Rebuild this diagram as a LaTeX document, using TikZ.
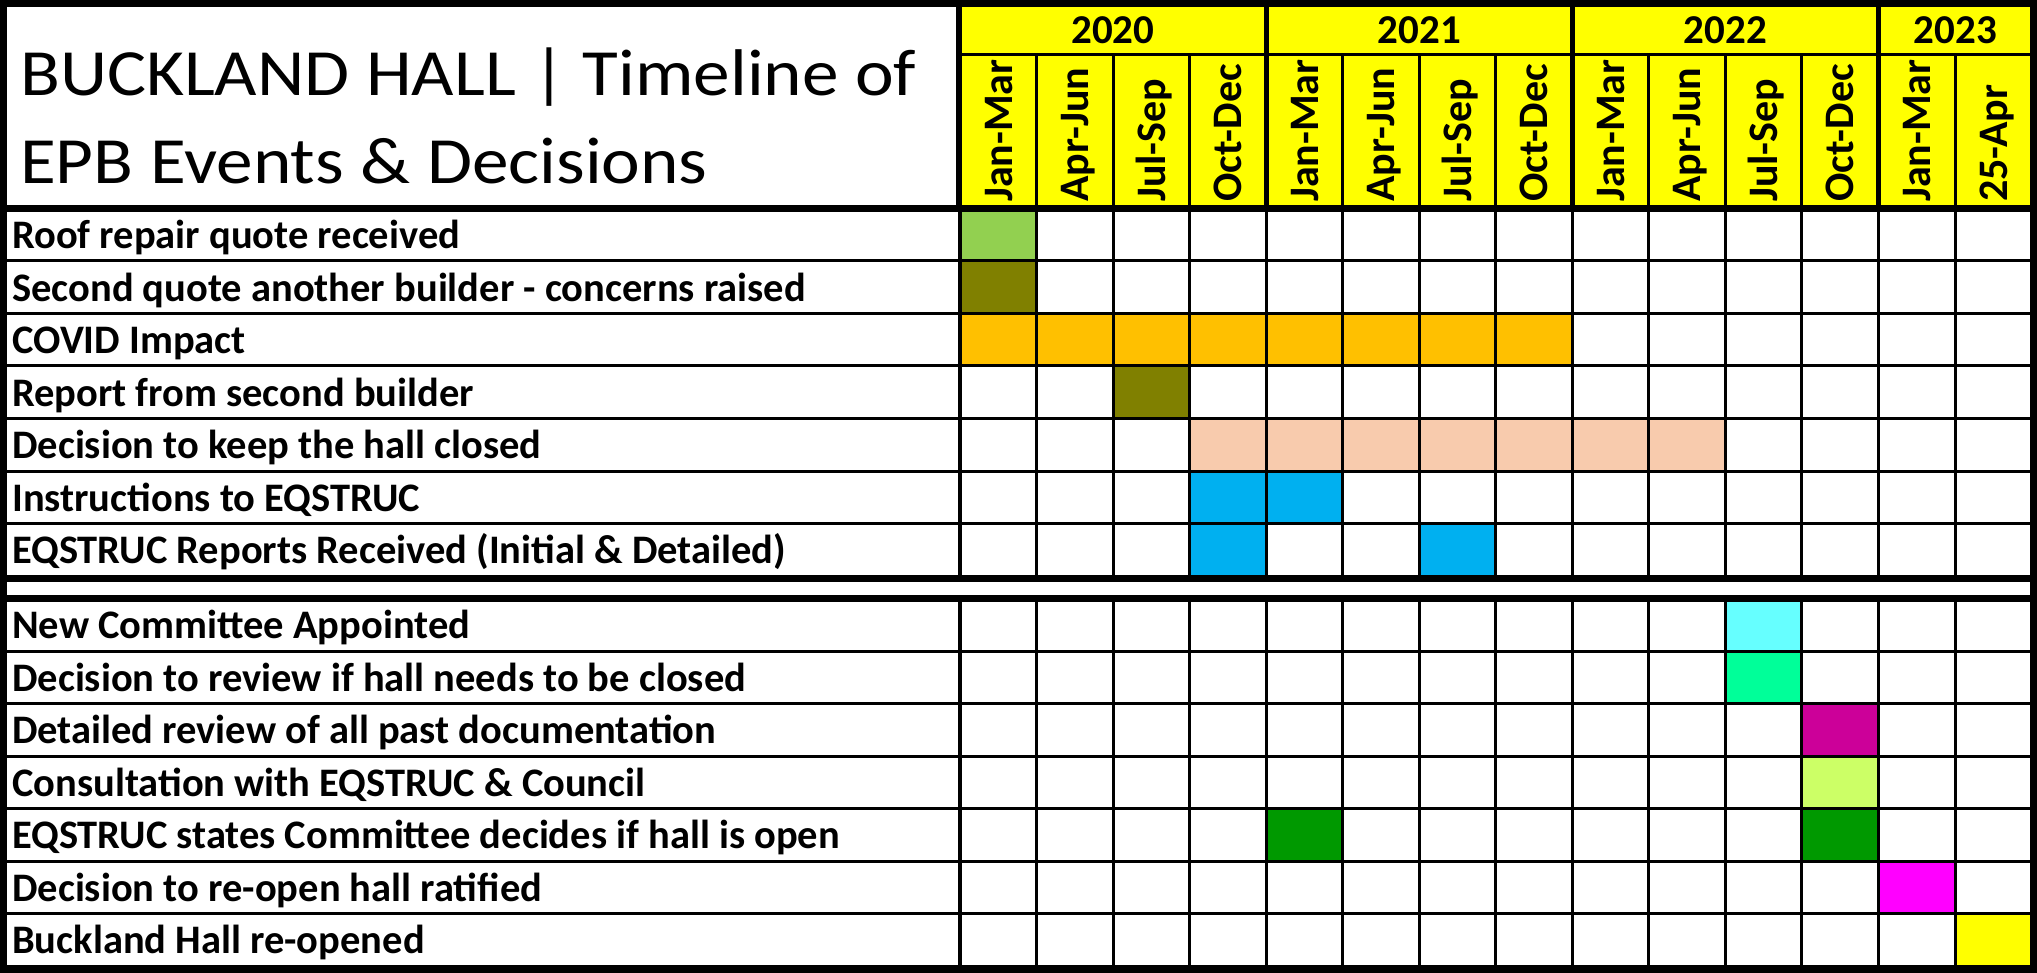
\documentclass[tikz,border=0pt]{standalone}
\usepackage{fontspec}
\setmainfont{Carlito}
\definecolor{hdr}{HTML}{FFFF00}
\definecolor{cLgreen}{HTML}{92D050}
\definecolor{cOlive}{HTML}{808000}
\definecolor{cOrange}{HTML}{FFC000}
\definecolor{cPeach}{HTML}{F8CBAD}
\definecolor{cBlue}{HTML}{00B0F0}
\definecolor{cCyan}{HTML}{66FFFF}
\definecolor{cSpring}{HTML}{00FF99}
\definecolor{cDmag}{HTML}{CC0099}
\definecolor{cLime}{HTML}{CCFF66}
\definecolor{cGreen}{HTML}{009900}
\definecolor{cMag}{HTML}{FF00FF}
\definecolor{cYel}{HTML}{FFFF00}
\newcommand\gcell[3]{%
  \pgfmathsetmacro\yt{#1<7 ? 208.5+52.5*#1 : 598.5+52.5*(#1-7)}%
  \pgfmathsetmacro\ya{(#1==0 || #1==7) ? \yt+3.5 : \yt+1.5}%
  \pgfmathsetmacro\yb{\yt+51}%
  \pgfmathsetmacro\xa{#2==0 ? 962 : 960+76.54*#2+1.5}%
  \pgfmathsetmacro\xb{#2==13 ? 2030 : 960+76.54*(#2+1)-1.5}%
  \fill[#3] (\xa,\ya) rectangle (\xb,\yb);}
\begin{document}
\begin{tikzpicture}[x=1pt,y=-1pt,
  lbl/.style={anchor=base west, inner sep=0pt, font=\fontsize{40.5}{48}\selectfont\bfseries},
  yr/.style={inner sep=0pt, text height=26pt, text depth=0pt, font=\fontsize{41}{48}\selectfont\bfseries},
  qtr/.style={rotate=90, anchor=west, inner sep=0pt, text height=27.5pt, text depth=0pt, font=\fontsize{42}{50}\selectfont\bfseries},
  ttl/.style={anchor=base west, inner sep=0pt, font=\fontsize{66}{78}\selectfont}]
\useasboundingbox (0,0) rectangle (2037,973);
\fill[black] (0,0) rectangle (2037,973);
% title box
\fill[white] (7,7) rectangle (955.5,205);
\node[ttl] (t1) at (20,96) {\scalebox{1.11}[1]{BUCKLAND HALL | Timeline of}};
\node[ttl] (t2) at (20,184) {\scalebox{1.11}[1]{EPB Events \& Decisions}};
% year cells
\fill[hdr] (962,7) rectangle (1263.6,53);
\fill[hdr] (1268.6,7) rectangle (1569.8,53);
\fill[hdr] (1574.8,7) rectangle (1876,53);
\fill[hdr] (1881,7) rectangle (2030,53);
\node[yr] (y20) at (1112.8,30.5) {2020};
\node[yr] (y21) at (1419.2,30.5) {2021};
\node[yr] (y22) at (1725.4,30.5) {2022};
\node[yr] (y23) at (1955.5,30.5) {2023};
% quarter cells
\foreach \i/\q in {0/Jan-Mar,1/Apr-Jun,2/Jul-Sep,3/Oct-Dec,4/Jan-Mar,5/Apr-Jun,6/Jul-Sep,7/Oct-Dec,8/Jan-Mar,9/Apr-Jun,10/Jul-Sep,11/Oct-Dec,12/Jan-Mar,13/25-Apr}{
  \pgfmathsetmacro\xa{\i==0 ? 962 : 960+76.54*\i+((\i==4 || \i==8 || \i==12) ? 2.5 : 1.5)}
  \pgfmathsetmacro\xb{\i==13 ? 2030 : 960+76.54*(\i+1)-((\i==3 || \i==7 || \i==11) ? 2.5 : 1.5)}
  \pgfmathsetmacro\xc{960+76.54*(\i+0.5)}
  \fill[hdr] (\xa,56.5) rectangle (\xb,205);
  \node[qtr] (q\i) at (\xc,202) {\q};
}
% gap bar
\fill[white] (7,582) rectangle (2030,595);
% label cells and white grid
\foreach \r in {0,...,13}{
  \pgfmathsetmacro\yt{\r<7 ? 208.5+52.5*\r : 598.5+52.5*(\r-7)}
  \pgfmathsetmacro\ya{(\r==0 || \r==7) ? \yt+3.5 : \yt+1.5}
  \pgfmathsetmacro\yb{\yt+51}
  \fill[white] (7,\ya) rectangle (958,\yb);
  \foreach \c in {0,...,13}{\gcell{\r}{\c}{white}}
}
% coloured cells
\gcell{0}{0}{cLgreen}
\gcell{1}{0}{cOlive}
\foreach \c in {0,...,7}{\gcell{2}{\c}{cOrange}}
\gcell{3}{2}{cOlive}
\foreach \c in {3,...,9}{\gcell{4}{\c}{cPeach}}
\gcell{5}{3}{cBlue}
\gcell{5}{4}{cBlue}
\gcell{6}{3}{cBlue}
\gcell{6}{6}{cBlue}
\gcell{7}{10}{cCyan}
\gcell{8}{10}{cSpring}
\gcell{9}{11}{cDmag}
\gcell{10}{11}{cLime}
\gcell{11}{4}{cGreen}
\gcell{11}{11}{cGreen}
\gcell{12}{12}{cMag}
\gcell{13}{13}{cYel}
% row labels
\foreach \r/\t in {0/Roof repair quote received,
  1/Second quote another builder - concerns raised,
  2/COVID Impact,
  3/Report from second builder,
  4/Decision to keep the hall closed,
  5/Instructions to EQSTRUC,
  6/EQSTRUC Reports Received (Initial \& Detailed),
  7/New Committee Appointed,
  8/Decision to review if hall needs to be closed,
  9/Detailed review of all past documentation,
  10/Consultation with EQSTRUC \& Council,
  11/EQSTRUC states Committee decides if hall is open,
  12/Decision to re-open hall ratified,
  13/Buckland Hall re-opened}{
  \pgfmathsetmacro\yc{(\r<7 ? 208.5+52.5*\r : 598.5+52.5*(\r-7))+26.25+14}
  \node[lbl] (l\r) at (12,\yc) {\t};
}
\end{tikzpicture}
\end{document}
